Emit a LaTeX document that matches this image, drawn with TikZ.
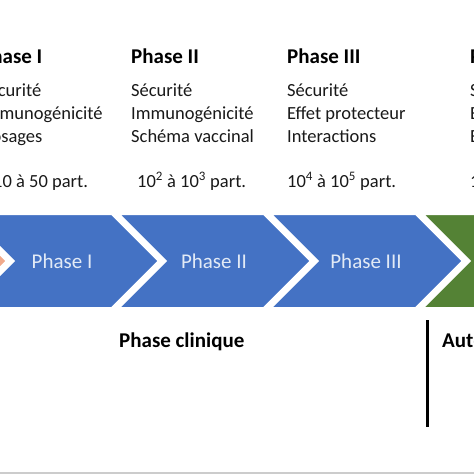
\documentclass[tikz,border=0pt]{standalone}
\usepackage{fontspec}
\setmainfont{Carlito}
\usepackage{tikz}
\usetikzlibrary{shapes.symbols}

\definecolor{phaseblue}{RGB}{68,114,196}
\definecolor{phasegreen}{RGB}{84,130,53}
\definecolor{phaseorange}{RGB}{240,170,140}
\definecolor{labelwhite}{RGB}{226,234,246}
\definecolor{bodytext}{RGB}{25,25,25}

\begin{document}
\begin{tikzpicture}[x=1pt, y=-1pt,
	chev/.style={shape=signal, signal to=east, signal from=west, signal pointer angle=90,
		minimum width=198pt, minimum height=97pt, inner sep=0pt, draw=white, line width=5pt,
		text=labelwhite, font=\fontsize{21}{24}\selectfont},
	colhead/.style={anchor=base west, inner sep=0pt, font=\fontsize{21}{24}\selectfont\bfseries},
	colbody/.style={anchor=base west, inner sep=0pt, align=left, text=bodytext,
		font=\fontsize{18.5}{23}\selectfont}]
	
	\useasboundingbox (0,0) rectangle (474,474);
	\clip (0,0) rectangle (474,474);
	
	% colonnes du haut (base = derniere ligne)
	\node[colhead] (h1) at (-20, 63)  {Phase I};
	\node[colbody] (b1) at (-20, 142) {Sécurité\\Immunogénicité\\Dosages};
	\node[colbody] (n1) at (-7, 187)  {10 à 50 part.};
	
	\node[colhead] (h2) at (131, 63)  {Phase II};
	\node[colbody] (b2) at (131, 142) {Sécurité\\Immunogénicité\\Schéma vaccinal};
	\node[colbody] (n2) at (137, 187) {10\textsuperscript{2} à 10\textsuperscript{3} part.};
	
	\node[colhead] (h3) at (287, 63)  {Phase III};
	\node[colbody] (b3) at (287, 142) {Sécurité\\Effet protecteur\\Interactions};
	\node[colbody] (n3) at (287, 187) {10\textsuperscript{4} à 10\textsuperscript{5} part.};
	
	\node[colhead] (h4) at (470, 63)  {Phase IV};
	\node[colbody] (b4) at (470, 142) {Sécurité\\Efficacité\\Effets rares};
	\node[colbody] (n4) at (470, 187) {10\textsuperscript{6} part.};
	
	% chevrons
	\node[chev, fill=phaseorange] (p0) at (-90, 261) {};
	\node[chev, fill=phaseblue]   (p1) at (62, 261)  {Phase I};
	\node[chev, fill=phaseblue]   (p2) at (214, 261) {Phase II};
	\node[chev, fill=phaseblue]   (p3) at (366, 261) {Phase III};
	\node[chev, fill=phasegreen]  (p4) at (518, 261) {};
	
	% bas
	\node[colhead] (clin) at (119, 347) {Phase clinique};
	\node[colhead] (amm)  at (442, 347) {Autorisation};
	\coordinate (sep top) at (427, 320);
	\coordinate (sep bot) at (427, 427);
	\draw[line width=3pt] (sep top) -- (sep bot);
	
	\fill[black!20] (0,472) rectangle (474,474);
	
\end{tikzpicture}
\end{document}
